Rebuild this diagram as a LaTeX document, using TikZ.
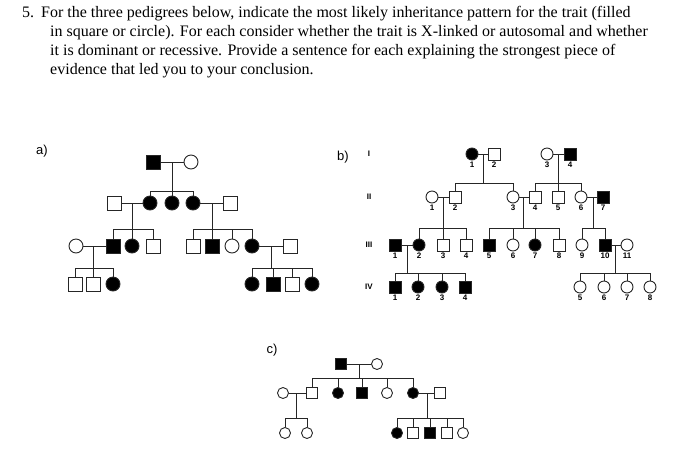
\documentclass[tikz,border=0pt]{standalone}
\usepackage{fontspec}
\setmainfont{Liberation Serif}
\newfontfamily\sansf{Liberation Sans}
\begin{document}
\begin{tikzpicture}[x=1pt,y=-1pt,
  ln/.style={line width=1pt,draw=black!85},
  sq/.style={draw=black!85,line width=0.9pt,rectangle,minimum size=\ps,inner sep=0pt},
  ci/.style={draw=black!85,line width=0.9pt,circle,minimum size=\ps,inner sep=0pt},
  af/.style={fill=black},
  num/.style={font=\sansf\bfseries\fontsize{8}{8}\selectfont,inner sep=1pt,label distance=0pt},
  txt/.style={anchor=west,inner sep=0pt,font=\fontsize{16}{16}\selectfont},
  lab/.style={font=\sansf\fontsize{13}{13}\selectfont,inner sep=0pt}]
\useasboundingbox (0,0) rectangle (686,467);
% header
\node[txt] (t1) at (22,14) {5.\hspace{7pt}For the three pedigrees below, indicate the most likely inheritance pattern for the trait (filled};
\node[txt] (t2) at (50,33) {in square or circle). For each consider whether the trait is X-linked or autosomal and whether};
\node[txt] (t3) at (50,52) {it is dominant or recessive. Provide a sentence for each explaining the strongest piece of};
\node[txt] (t4) at (50,71) {evidence that led you to your conclusion.};
% ---------- a ----------
\node[lab] (la) at (42,151) {a)};
\def\ps{14pt}
\node[sq,af] (a1) at (153,162) {}; \node[ci] (a2) at (191,162) {};
\node[sq] (b1) at (114,203) {}; \node[ci,af] (b2) at (150,203) {}; \node[ci,af] (b3) at (172,203) {};
\node[ci,af] (b4) at (193,203) {}; \node[sq] (b5) at (230,203) {};
\node[ci] (c0) at (76,246) {}; \node[sq,af] (c1) at (113,246) {}; \node[ci,af] (c2) at (132,246) {}; \node[sq] (c3) at (153,246) {};
\node[sq] (c4) at (193,246) {}; \node[sq,af] (c5) at (212,246) {}; \node[ci] (c6) at (232,246) {}; \node[ci,af] (c7) at (252,246) {}; \node[sq] (c8) at (290,246) {};
\node[sq] (d1) at (75,284) {}; \node[sq] (d2) at (93,284) {}; \node[ci,af] (d3) at (113,284) {};
\node[ci,af] (d4) at (252,284) {}; \node[sq,af] (d5) at (273,284) {}; \node[sq] (d6) at (292,284) {}; \node[ci,af] (d7) at (312,284) {};
\draw[ln] (a1)--(a2) (172,162)--(172,191) (b2.north)|-(b4.north |- 0,191)--(b4.north) (b3.north)--(172,191);
\draw[ln] (b1)--(b2) (132,203)--(132,229) (b4)--(b5) (212,203)--(212,229);
\draw[ln] (c1.north)|-(153,229)--(c3.north) (c2.north)--(132,229);
\draw[ln] (c4.north)|-(252,229)--(c7.north) (c5.north)--(212,229) (c6.north)--(232,229);
\draw[ln] (c0)--(c1) (93,246)--(93,268) (c7)--(c8) (271,246)--(271,268);
\draw[ln] (d1.north)|-(113,268)--(d3.north) (d2.north)--(93,268);
\draw[ln] (d4.north)|-(312,268)--(d7.north) (d5.north)--(273,268) (d6.north)--(292,268);
% ---------- b ----------
\node[lab] (lb) at (343,157) {b)};
\node[num] (g1) at (369,154) {I}; \node[num] (g2) at (369,197) {II}; \node[num] (g3) at (369,245) {III}; \node[num] (g4) at (369,287) {IV};
\def\ps{12pt}
\node[ci,af,label={[num]below:1}] (p1) at (472,154) {}; \node[sq,label={[num]below:2}] (p2) at (494,154) {};
\node[ci,label={[num]below:3}] (p3) at (547,154) {}; \node[sq,af,label={[num]below:4}] (p4) at (570,154) {};
\node[ci,label={[num]below:1}] (q1) at (432,197) {}; \node[sq,label={[num]below:2}] (q2) at (455,197) {};
\node[ci,label={[num]below:3}] (q3) at (513,197) {}; \node[sq,label={[num]below:4}] (q4) at (535,197) {};
\node[sq,label={[num]below:5}] (q5) at (558,197) {}; \node[ci,label={[num]below:6}] (q6) at (581,197) {};
\node[sq,af,label={[num]below:7}] (q7) at (603,197) {};
\node[sq,af,label={[num]below:1}] (r1) at (395,245) {}; \node[ci,af,label={[num]below:2}] (r2) at (419,245) {};
\node[sq,label={[num]below:3}] (r3) at (443,245) {}; \node[sq,label={[num]below:4}] (r4) at (466,245) {};
\node[sq,af,label={[num]below:5}] (r5) at (489,245) {}; \node[ci,label={[num]below:6}] (r6) at (513,245) {};
\node[ci,af,label={[num]below:7}] (r7) at (535,245) {}; \node[sq,label={[num]below:8}] (r8) at (559,245) {};
\node[ci,label={[num]below:9}] (r9) at (582,245) {}; \node[sq,af,label={[num]below:10}] (r10) at (605,245) {};
\node[ci,label={[num]below:11}] (r11) at (627,245) {};
\node[sq,af,label={[num]below:1}] (s1) at (395,287) {}; \node[ci,af,label={[num]below:2}] (s2) at (418,287) {};
\node[ci,af,label={[num]below:3}] (s3) at (442,287) {}; \node[sq,af,label={[num]below:4}] (s4) at (465,287) {};
\node[ci,label={[num]below:5}] (s5) at (580,287) {}; \node[ci,label={[num]below:6}] (s6) at (604,287) {};
\node[ci,label={[num]below:7}] (s7) at (627,287) {}; \node[ci,label={[num]below:8}] (s8) at (650,287) {};
\draw[ln] (p1)--(p2) (483,154)--(483,183) (q2.north)|-(513,183)--(q3.north);
\draw[ln] (p3)--(p4) (558,154)--(558,183) (q4.north)|-(581,183)--(q6.north) (q5.north)--(558,183);
\draw[ln] (q1)--(q2) (443,197)--(443,228) (r2.north)|-(466,228)--(r4.north) (r3.north)--(443,228);
\draw[ln] (q3)--(q4) (523,197)--(523,228) (r5.north)|-(559,228)--(r8.north) (r6.north)--(513,228) (r7.north)--(535,228);
\draw[ln] (q6)--(q7) (593,197)--(593,228) (r9.north)|-(605,228)--(r10.north);
\draw[ln] (r1)--(r2) (407,245)--(407,273) (s1.north)|-(465,273)--(s4.north) (s2.north)--(418,273) (s3.north)--(442,273);
\draw[ln] (r10)--(r11) (615,245)--(615,273) (s5.north)|-(650,273)--(s8.north) (s6.north)--(604,273) (s7.north)--(627,273);
% ---------- c ----------
\node[lab] (lc) at (272,350) {c)};
\def\ps{11pt}
\node[sq,af] (u1) at (341,364) {}; \node[ci] (u2) at (377,364) {};
\node[ci] (v0) at (283,393) {}; \node[sq] (v1) at (312,393) {}; \node[ci,af] (v2) at (338,393) {};
\node[sq,af] (v3) at (362,393) {}; \node[ci] (v4) at (387,393) {}; \node[ci,af] (v5) at (413,393) {}; \node[sq] (v6) at (440,393) {};
\node[ci] (w1) at (285,433) {}; \node[ci] (w2) at (307,433) {};
\node[ci,af] (w3) at (397,433) {}; \node[sq] (w4) at (413,433) {}; \node[sq,af] (w5) at (430,433) {}; \node[sq] (w6) at (447,433) {}; \node[ci] (w7) at (463,433) {};
\draw[ln] (u1)--(u2) (359,364)--(359,378) (v1.north)|-(413,378)--(v5.north) (v2.north)--(338,378) (v3.north)--(362,378) (v4.north)--(387,378);
\draw[ln] (v0)--(v1) (296,393)--(296,418) (w1.north)|-(307,418)--(w2.north);
\draw[ln] (v5)--(v6) (427,393)--(427,418) (w3.north)|-(463,418)--(w7.north) (w4.north)--(413,418) (w5.north)--(430,418) (w6.north)--(447,418);
\end{tikzpicture}
\end{document}
